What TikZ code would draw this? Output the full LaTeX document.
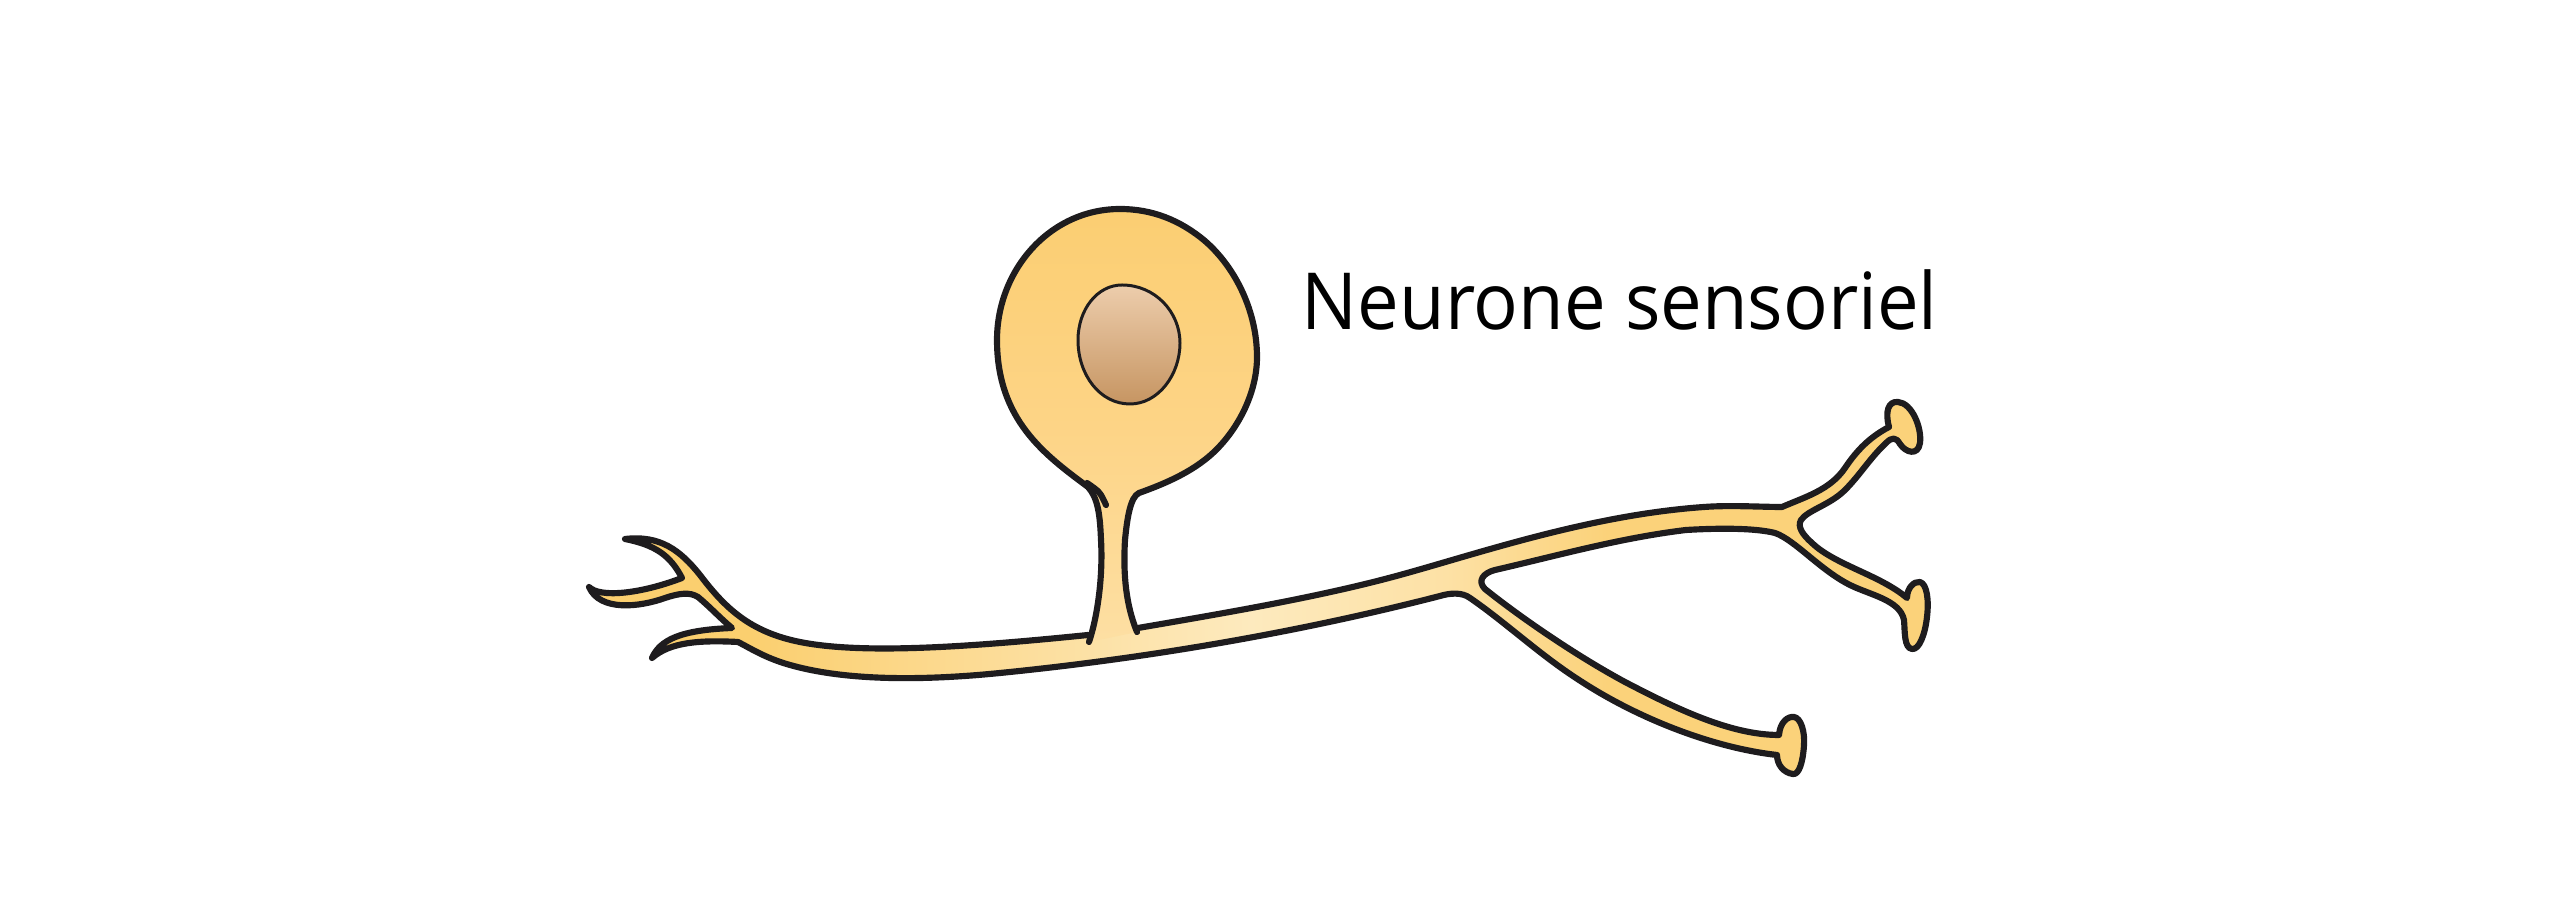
\documentclass[tikz,border=0pt]{standalone}
\usepackage{fontspec}
\setmainfont[FakeStretch=0.943]{Open Sans}
\definecolor{inkline}{HTML}{1E1C1E}
\definecolor{axA}{HTML}{FBCF6F}
\definecolor{axB}{HTML}{FCDC97}
\definecolor{axC}{HTML}{FDEABE}
\definecolor{axD}{HTML}{FDE1A5}
\definecolor{axE}{HTML}{FBD27A}
\definecolor{somaTop}{HTML}{FBCE72}
\definecolor{somaMid}{HTML}{FDD486}
\definecolor{somaLow}{HTML}{FDDFA3}
\definecolor{nucTop}{HTML}{EDCDAC}
\definecolor{nucLow}{HTML}{C69562}
\pgfdeclarehorizontalshading{neuriteshade}{100bp}{color(0bp)=(axA); color(31bp)=(axA); color(40bp)=(axB); color(49.7bp)=(axC); color(57bp)=(axD); color(63bp)=(axE); color(100bp)=(axE)}
\pgfdeclareverticalshading{somashade}{100bp}{color(0bp)=(somaLow); color(25bp)=(somaLow); color(50bp)=(somaMid); color(75bp)=(somaTop); color(100bp)=(somaTop)}
\pgfdeclareverticalshading{nucleusshade}{100bp}{color(0bp)=(nucLow); color(25bp)=(nucLow); color(75bp)=(nucTop); color(100bp)=(nucTop)}
\tikzset{
  outline/.style={draw=inkline, line width=1.75pt, line join=round, line cap=round}
}
\begin{document}
\begin{tikzpicture}[x=0.01cm, y=-0.01cm]
  \useasboundingbox (0,0) rectangle (2550,901);
  % branching process, from the right side of the stalk clockwise round the three
  % terminal knobs, then along the underside to the left twigs and back
  \path[outline, shading=neuriteshade]
    (1138,628) .. controls (1225,613) and (1320,597) .. (1400,575)
    .. controls (1480,553) and (1590,515) .. (1704,507)
    .. controls (1730,505) and (1760,507) .. (1782,507)
    .. controls (1805,497) and (1830,490) .. (1845,468)
    .. controls (1857,450) and (1870,437) .. (1889,427)
    .. controls (1885,412) and (1888,401) .. (1898,402)
    .. controls (1912,403) and (1922,428) .. (1920,443)
    .. controls (1918,456) and (1906,453) .. (1900,444)
    .. controls (1896,437) and (1892,437) .. (1886,443)
    .. controls (1870,458) and (1860,475) .. (1845,490)
    .. controls (1830,505) and (1808,510) .. (1801,520)
    .. controls (1797,527) and (1803,535) .. (1812,543)
    .. controls (1835,565) and (1880,575) .. (1907,598)
    .. controls (1907,588) and (1914,581) .. (1920,582)
    .. controls (1927,584) and (1929,600) .. (1927,617)
    .. controls (1925,635) and (1919,650) .. (1912,649)
    .. controls (1904,648) and (1905,632) .. (1904,620)
    .. controls (1900,600) and (1870,595) .. (1850,585)
    .. controls (1820,570) and (1795,540) .. (1775,533)
    .. controls (1755,528) and (1720,528) .. (1686,530)
    .. controls (1620,538) and (1560,555) .. (1495,570)
    .. controls (1483,573) and (1477,581) .. (1485,589)
    .. controls (1520,617) and (1575,655) .. (1625,682)
    .. controls (1675,708) and (1730,735) .. (1779,735)
    .. controls (1780,722) and (1788,716) .. (1794,717)
    .. controls (1801,718) and (1805,732) .. (1804,745)
    .. controls (1803,762) and (1799,775) .. (1793,774)
    .. controls (1784,773) and (1777,765) .. (1777,755)
    .. controls (1715,748) and (1640,720) .. (1579,680)
    .. controls (1540,655) and (1505,622) .. (1470,598)
    .. controls (1462,592) and (1450,593) .. (1440,596)
    .. controls (1300,632) and (1150,658) .. (1000,673)
    .. controls (930,680) and (850,682) .. (790,665)
    .. controls (765,658) and (750,648) .. (738,642)
    .. controls (700,640) and (670,642) .. (652,658)
    .. controls (660,640) and (680,630) .. (732,628)
    .. controls (720,618) and (710,607) .. (698,597)
    .. controls (690,592) and (680,593) .. (665,598)
    .. controls (640,607) and (600,612) .. (589,587)
    .. controls (600,598) and (640,594) .. (682,578)
    .. controls (670,555) and (655,545) .. (625,539)
    .. controls (660,535) and (680,550) .. (700,575)
    .. controls (725,608) and (750,632) .. (800,642)
    .. controls (860,654) and (960,648) .. (1088,635);
  % cell body with its stalk
  \path[outline, shading=somashade]
    (1089,642) .. controls (1098,615) and (1103,575) .. (1101,540)
    .. controls (1100,515) and (1098,498) .. (1088,487)
    .. controls (1045,455) and (997,420) .. (997,340)
    .. controls (997,270) and (1050,209) .. (1120,209)
    .. controls (1152,209) and (1180,220) .. (1205,241)
    .. controls (1236,268) and (1257,312) .. (1257,357)
    .. controls (1257,390) and (1241,424) .. (1218,448)
    .. controls (1197,470) and (1167,483) .. (1139,493)
    .. controls (1130,497) and (1127,520) .. (1125,540)
    .. controls (1123,575) and (1126,605) .. (1137,632);
  % short fold at the neck
  \coordinate (neckA) at (1087,483);
  \coordinate (neckB) at (1100,492);
  \coordinate (neckC) at (1106,505);
  \draw[outline] (neckA) .. controls (neckB) .. (neckC);
  % nucleus
  \path[draw=inkline, line width=0.85pt, shading=nucleusshade]
    (1078,340) .. controls (1078,310) and (1097,285) .. (1122,285)
    .. controls (1155,285) and (1180,312) .. (1180,343)
    .. controls (1180,375) and (1158,404) .. (1130,404)
    .. controls (1100,404) and (1078,375) .. (1078,340) -- cycle;
  \node[anchor=base west, inner sep=0pt, font=\fontsize{22.4pt}{27pt}\selectfont, text=black] (label) at (1301,330) {Neurone sensoriel};
\end{tikzpicture}
\end{document}
